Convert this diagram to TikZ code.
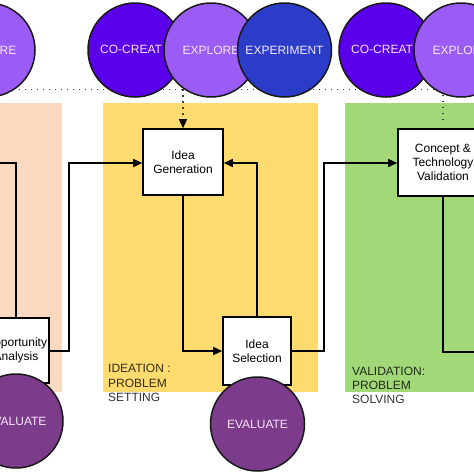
\documentclass[tikz,border=0pt]{standalone}
\usepackage{fontspec}
\setmainfont{Liberation Sans}
\usetikzlibrary{arrows.meta}
\definecolor{peach}{HTML}{F9D9BF}
\definecolor{ideay}{HTML}{FEDB6F}
\definecolor{valg}{HTML}{A3D878}
\definecolor{cocreate}{HTML}{5A00EA}
\definecolor{explore}{HTML}{9B5CF6}
\definecolor{experiment}{HTML}{2B3DC8}
\definecolor{evaluate}{HTML}{7D3B8C}
\definecolor{circtext}{HTML}{F6E6F8}
\tikzset{
  fnt/.style={font=\fontsize{12}{14.3}\selectfont},
  box/.style={draw=black, line width=1.6pt, fill=white, fnt, align=center, inner sep=0pt},
  phase/.style={circle, draw=black!90, line width=1.5pt, minimum size=94pt, inner sep=0pt, fnt, text=circtext},
  conn/.style={draw=black, line width=1.5pt, -{Triangle[length=9pt,width=8pt]}},
  plainconn/.style={draw=black, line width=1.5pt},
  dots/.style={draw=black!75, line width=1.4pt, dash pattern=on 1.4pt off 4.6pt},
  lbl/.style={fnt, align=left, anchor=west, inner sep=0pt, text=black, text opacity=0.8},
}
\begin{document}
\begin{tikzpicture}[x=1pt,y=-1pt]
\useasboundingbox (0,0) rectangle (474,474);
\fill[white] (0,0) rectangle (474,474);
% panels
\fill[peach] (-5,103) rectangle (62,392);
\fill[ideay] (103,103) rectangle (318,392);
\fill[valg] (345,103) rectangle (480,392);
% dotted horizontal line
\coordinate (dl) at (-5,89.3);
\coordinate (dr) at (480,89.3);
\draw[dots] (dl) -- (dr);
% boxes
\node[box, minimum width=80pt, minimum height=66pt] (ig) at (183,162) {Idea\\Generation};
\node[box, minimum width=68pt, minimum height=68pt] (is) at (257,351) {Idea\\Selection};
\node[box, minimum width=90pt, minimum height=67pt] (ct) at (443,162.5) {Concept \&\\Technology\\Validation};
\node[box, minimum width=66pt, minimum height=65pt] (oa) at (16,350.5) {Opportunity\\Analysis};
% connectors
\coordinate (lin) at (-5,163);
\draw[plainconn] (lin) -| (oa.north);
\draw[conn] (oa.east |- 0,351) -- (69,351) |- (ig.west |- 0,163);
\draw[conn] (ig.south) |- (is.west);
\draw[conn] (is.north) |- (ig.east |- 0,163);
\draw[conn] (is.east) -- (324,351) |- (ct.west |- 0,163);
\coordinate (rout) at (480,352);
\draw[plainconn] (ct.south) |- (rout);
% dotted verticals
\coordinate (dv1) at (183,89.3);
\draw[dots, -{Triangle[length=9pt,width=8pt,color=black]}] (dv1) -- (ig.north);
\coordinate (dv2) at (443,95);
\coordinate (dv2e) at (443,125);
\draw[dots] (dv2) -- (dv2e);
% top circles
\node[phase, fill=explore] (ex0) at (-12,50) {EXPLORE};
\node[phase, fill=cocreate] (cc1) at (135,50) {};
\node[fnt, text=circtext, anchor=west, inner sep=0pt] (cc1t) at (100,49.5) {CO-CREAT};
\node[phase, fill=explore] (ex1) at (211,50) {EXPLORE};
\node[phase, fill=experiment] (xp1) at (284.5,50) {EXPERIMENT};
\node[phase, fill=cocreate] (cc2) at (386,50) {};
\node[fnt, text=circtext, anchor=west, inner sep=0pt] (cc2t) at (351,49.5) {CO-CREAT};
\node[phase, fill=explore] (ex2) at (461,50) {EXPLORE};
% bottom circles
\node[phase, fill=evaluate] (ev0) at (16,421) {EVALUATE};
\node[phase, fill=evaluate] (ev1) at (257.5,424) {EVALUATE};
% labels
\node[lbl] (l1) at (108,383) {IDEATION :\\PROBLEM\\SETTING};
\node[lbl] (l2) at (352,385.5) {VALIDATION:\\PROBLEM\\SOLVING};
\end{tikzpicture}
\end{document}
